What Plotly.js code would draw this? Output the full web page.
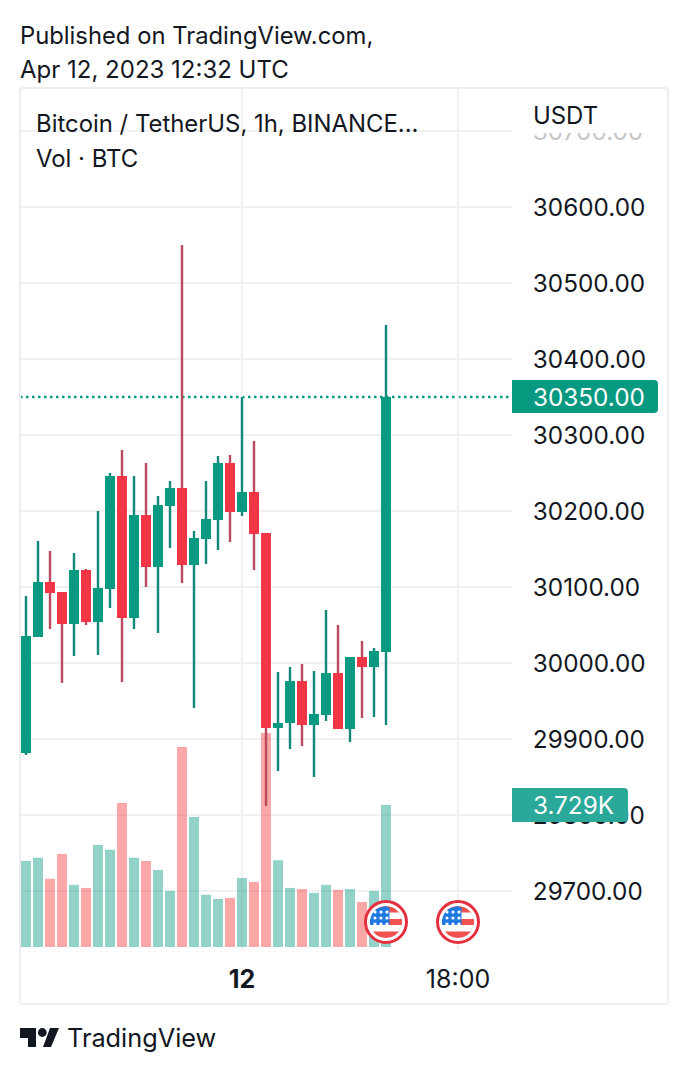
<!DOCTYPE html>
<html><head><meta charset="utf-8">
<script src="https://cdn.plot.ly/plotly-3.0.1.min.js"></script>
<style>html,body{margin:0;padding:0;background:#fff}#c{width:688px;height:1074px}</style>
</head><body><div id="c"></div>
<script>
const times=['2023-04-11 06:00','2023-04-11 07:00','2023-04-11 08:00','2023-04-11 09:00','2023-04-11 10:00','2023-04-11 11:00','2023-04-11 12:00','2023-04-11 13:00','2023-04-11 14:00','2023-04-11 15:00','2023-04-11 16:00','2023-04-11 17:00','2023-04-11 18:00','2023-04-11 19:00','2023-04-11 20:00','2023-04-11 21:00','2023-04-11 22:00','2023-04-11 23:00','2023-04-12 00:00','2023-04-12 01:00','2023-04-12 02:00','2023-04-12 03:00','2023-04-12 04:00','2023-04-12 05:00','2023-04-12 06:00','2023-04-12 07:00','2023-04-12 08:00','2023-04-12 09:00','2023-04-12 10:00','2023-04-12 11:00','2023-04-12 12:00'];
const opens=[29881.6,30034.2,30106.6,30093.4,30051.3,30122.4,30053.9,30097.4,30246.1,30059.2,30194.7,30126.3,30206.6,30230.3,30128.9,30163.2,30188.2,30263.2,30198.7,30225,30171.1,29914.5,29921.1,29976.3,29918.4,29931.6,29986.8,29913.2,30007.9,29994.7,30014.5];
const highs=[30088.2,30160.5,30147.4,30093.4,30144.7,30123.7,30200,30250,30280.3,30246.1,30263.2,30219.7,30239.5,30550,30173.7,30239.5,30272.4,30273.7,30350,30292.1,30171.1,29988.2,29994.7,29998.7,29989.5,30069.7,30050,30007.9,30028.9,30019.7,30444.7];
const lows=[29878.9,30034.2,30044.7,29973.7,30009.2,30050,30010.5,30072.4,29975,30044.7,30100,30039.5,30151.3,30105.3,29940.8,30130.3,30148.7,30159.2,30193.4,30122.4,29811.8,29857.9,29886.8,29890.8,29850,29923.7,29913.2,29896,29927.6,29928.9,29918.4];
const closes=[30035.5,30106.6,30092.1,30051.3,30122.4,30053.9,30098.7,30246.1,30059.2,30194.7,30126.3,30207.9,30230.3,30128.9,30164.5,30189.5,30263.2,30198.7,30225,30169.7,29914.5,29921.1,29976.3,29918.4,29932.9,29986.8,29913.2,30007.9,29994.7,30015.8,30350];
const volumesK=[2.26,2.34,1.79,2.44,1.63,1.55,2.68,2.55,3.78,2.34,2.26,2.02,1.47,5.25,3.41,1.37,1.26,1.29,1.81,1.71,5.62,2.28,1.55,1.52,1.42,1.63,1.50,1.52,1.18,1.47,3.729];
const priceTicks=[30700,30600,30500,30400,30300,30200,30100,30000,29900,29800,29700];
const priceTickText=['30700.00','30600.00','30500.00','30400.00','30300.00','30200.00','30100.00','30000.00','29900.00','29800.00','29700.00'];
const timeTicks=['2023-04-12 00:00','2023-04-12 18:00'];
const timeTickText=['<b>12</b>','18:00'];
const lastPrice=30350, lastPriceText='30350.00', lastVolumeText='3.729K';

const UP='#089981',DOWN='#F23645',UPW='#12897a',DOWNW='#b94a5e',INK='#131722',GRID='#f0f1f3';
const W=688,H=1074,L=20,R=512,T=88,B=950;
const px=x=>(x-L)/(R-L), py=y=>(B-y)/(B-T);
const path=(pts,close=true)=>pts.map((p,i)=>(i?'L':'M')+px(p[0]).toFixed(5)+','+py(p[1]).toFixed(5)).join(' ')+(close?' Z':'');
const isUp=closes.map((c,i)=>c>=opens[i]);
const bodyColors=isUp.map(u=>u?UP:DOWN);
const volColors=isUp.map(u=>u?'rgba(8,153,129,0.44)':'rgba(242,54,54,0.44)');
const HOUR=3600000;
// the wick trace collapses its box to the body's middle so only the whiskers show around the body bars
const wickOpen=opens.map((o,i)=>(o+closes[i])/2-(isUp[i]?0.01:-0.01));
const wickClose=opens.map((o,i)=>(o+closes[i])/2+(isUp[i]?0.01:-0.01));

const traces=[
 {type:'bar',x:times,y:volumesK,width:0.83*HOUR,marker:{color:volColors,line:{width:0}},xaxis:'x',yaxis:'y',hoverinfo:'skip',showlegend:false},
 {type:'candlestick',x:times,open:wickOpen,high:highs,low:lows,close:wickClose,xaxis:'x',yaxis:'y2',whiskerwidth:0,
  increasing:{line:{color:UPW,width:2.4},fillcolor:UP},decreasing:{line:{color:DOWNW,width:2.4},fillcolor:DOWN},hoverinfo:'skip',showlegend:false},
 {type:'bar',x:times,base:opens,y:closes.map((c,i)=>c-opens[i]),width:0.83*HOUR,marker:{color:bodyColors,line:{width:0}},xaxis:'x',yaxis:'y3',hoverinfo:'skip',showlegend:false}
];

function rr(x0,y0,x1,y1,r,fill){
 const s='M'+px(x0)+','+py(y0)+' L'+px(x1-r)+','+py(y0)+' Q'+px(x1)+','+py(y0)+' '+px(x1)+','+py(y0+r)+' L'+px(x1)+','+py(y1-r)+' Q'+px(x1)+','+py(y1)+' '+px(x1-r)+','+py(y1)+' L'+px(x0)+','+py(y1)+' Z';
 return {type:'path',xref:'paper',yref:'paper',path:s,fillcolor:fill,line:{width:0},layer:'above'};
}
const circ=(cx,cy,r,fill,lc,lw)=>({type:'circle',xref:'paper',yref:'paper',x0:px(cx-r),x1:px(cx+r),y0:py(cy+r),y1:py(cy-r),fillcolor:fill,line:{color:lc||fill,width:lw||0},layer:'above'});
function band(cx,cy,r,x1,x2,y1,y2,fill){
 const rightS=[],leftS=[];const n=10;
 for(let k=0;k<=n;k++){const y=y1+(y2-y1)*k/n;const h=Math.sqrt(Math.max(0,r*r-y*y));
  rightS.push([cx+Math.min(x2,h),cy+y]);leftS.unshift([cx+Math.max(x1,-h),cy+y]);}
 return {type:'path',xref:'paper',yref:'paper',path:path(rightS.concat(leftS)),fillcolor:fill,line:{width:0},layer:'above'};
}
function flag(cx,cy){
 const out=[circ(cx,cy,20.5,'#ffffff','#e5303f',3)];
 const r=16;
 out.push(band(cx,cy,r,-16,16,-16,-9.5,'#f0524f'));
 out.push(band(cx,cy,r,-16,16,-3,3,'#f0524f'));
 out.push(band(cx,cy,r,-16,16,9.5,16,'#f0524f'));
 out.push(band(cx,cy,r,-16,3.5,-16,3,'#1f7ae0'));
 for(const dx of [-11,-5,1]) for(const dy of [-10,-4,2]) out.push(circ(cx+dx,cy+dy,1.6,'#ffffff'));
 return out;
}
const shapes=[
 {type:'line',xref:'paper',yref:'y2',x0:0,x1:1,y0:lastPrice,y1:lastPrice,line:{color:UP,width:2.5,dash:'2.5px,3.5px'},layer:'below'},
 {type:'rect',xref:'paper',yref:'paper',x0:px(514),x1:px(666),y0:py(133),y1:py(89),fillcolor:'#ffffff',line:{width:0},layer:'above'},
 {type:'rect',xref:'paper',yref:'paper',x0:px(514),x1:px(666),y0:py(143),y1:py(133),fillcolor:'rgba(255,255,255,0.75)',line:{width:0},layer:'above'},
 rr(512,380,658,413,4,UP),
 rr(512,788,628,822,4,'#2aa89a'),
 ...flag(386,922),...flag(458,922),
 {type:'path',xref:'paper',yref:'paper',path:path([[20,1028],[36,1028],[36,1047],[28,1047],[28,1038],[20,1038]]),fillcolor:INK,line:{width:0},layer:'above'},
 {type:'path',xref:'paper',yref:'paper',path:path([[50,1028],[59,1028],[51,1047],[43,1047]]),fillcolor:INK,line:{width:0},layer:'above'},
 circ(42.3,1032.5,4.4,INK),
 {type:'path',xref:'paper',yref:'paper',path:path([[22,88],[666,88],[668,90],[668,1002],[666,1004],[22,1004],[20,1002],[20,90]]),fillcolor:'rgba(0,0,0,0)',line:{color:'#ecedef',width:2},layer:'above'}
];
const note=(text,x,y,size,opts={})=>Object.assign({xref:'paper',yref:'paper',x:px(x),y:py(y),text,showarrow:false,xanchor:'left',yanchor:'middle',align:'left',borderpad:0,font:{family:'Inter, sans-serif',size,color:INK}},opts);
const annotations=[
 note('Published on TradingView.com,',19,35,23.8),
 note('Apr 12, 2023 12:32 UTC',19,69.5,24),
 note('Bitcoin / TetherUS, 1h, BINANCE...',35,123.5,23.9),
 note('Vol · BTC',35,158,23.9),
 note('USDT',531.5,115,23.9),
 note(lastPriceText,531.5,397,24.3,{font:{family:'Inter, sans-serif',size:24.3,color:'#ffffff'}}),
 note(lastVolumeText,531.5,805,24.3,{font:{family:'Inter, sans-serif',size:24.3,color:'#ffffff'}}),
 note('TradingView',65.5,1037,25.3)
];
const pr=[29622.4,30756.6];
const layout={
 width:W,height:H,margin:{l:L,r:W-R,t:T,b:H-B,pad:0},paper_bgcolor:'#fff',plot_bgcolor:'#fff',showlegend:false,
 boxgap:0.4,boxmode:'overlay',barmode:'overlay',
 font:{family:'Inter, sans-serif',color:INK},
 xaxis:{type:'date',range:['2023-04-11 05:30','2023-04-12 22:30'],rangeslider:{visible:false},tickmode:'array',tickvals:timeTicks,ticktext:timeTickText,
  showgrid:true,gridcolor:GRID,gridwidth:1.5,zeroline:false,showline:false,ticks:'outside',ticklen:7,tickcolor:'rgba(0,0,0,0)',tickfont:{size:25,color:INK,family:'Inter, sans-serif'},tickangle:0},
 yaxis:{range:[-0.08,22.56],visible:false,fixedrange:true,showgrid:false,zeroline:false},
 yaxis2:{range:pr,overlaying:'y',side:'right',anchor:'x',tickmode:'array',tickvals:priceTicks,ticktext:priceTickText,showgrid:true,gridcolor:GRID,gridwidth:1.5,zeroline:false,showline:false,
  ticks:'outside',ticklen:15,tickcolor:'rgba(0,0,0,0)',tickfont:{size:24.3,color:INK,family:'Inter, sans-serif'}},
 yaxis3:{range:pr,overlaying:'y',side:'right',anchor:'x',visible:false,showgrid:false,zeroline:false},
 shapes,annotations
};
Plotly.newPlot('c',traces,layout,{displayModeBar:false,responsive:false});
</script></body></html>
